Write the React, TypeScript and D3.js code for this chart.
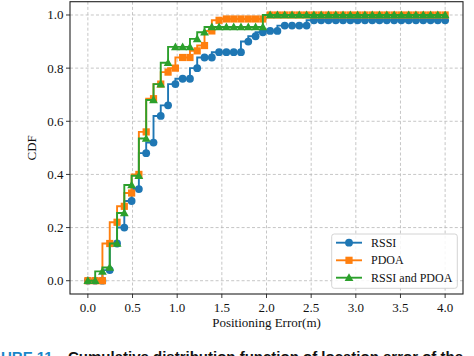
import React from "react";
import * as d3 from "d3";

const errX = [0, 0.082, 0.163, 0.245, 0.327, 0.408, 0.49, 0.571, 0.653, 0.735, 0.816, 0.898, 0.98, 1.061, 1.143, 1.224, 1.306, 1.388, 1.469, 1.551, 1.633, 1.714, 1.796, 1.878, 1.959, 2.041, 2.122, 2.204, 2.286, 2.367, 2.449, 2.531, 2.612, 2.694, 2.776, 2.857, 2.939, 3.02, 3.102, 3.184, 3.265, 3.347, 3.429, 3.51, 3.592, 3.673, 3.755, 3.837, 3.918, 4.0];

const rssi = [0, 0, 0, 0.04, 0.14, 0.2, 0.3, 0.345, 0.48, 0.52, 0.62, 0.66, 0.74, 0.76, 0.76, 0.8, 0.84, 0.84, 0.86, 0.86, 0.86, 0.86, 0.9, 0.92, 0.935, 0.94, 0.94, 0.96, 0.96, 0.96, 0.96,
  0.98, 0.98, 0.98, 0.98, 0.98, 0.98, 0.98, 0.98, 0.98, 0.98, 0.98, 0.98, 0.98, 0.98, 0.98, 0.98, 0.98, 0.98, 0.98];

const pdoa = [0, 0, 0, 0.14, 0.22, 0.28, 0.33, 0.4, 0.56, 0.685, 0.74, 0.785, 0.8, 0.84, 0.84, 0.865, 0.885, 0.94, 0.98,
  0.985, 0.985, 0.985, 0.985, 0.985, 0.985,
  1, 1, 1, 1, 1, 1, 1, 1, 1, 1, 1, 1, 1, 1, 1, 1, 1, 1, 1, 1, 1, 1, 1, 1, 1];

const both = [0, 0, 0.035, 0.05, 0.14, 0.255, 0.36, 0.395, 0.535, 0.68, 0.74, 0.82, 0.88, 0.88, 0.88, 0.91, 0.935,
  0.955, 0.955, 0.955, 0.955, 0.955, 0.955, 0.955, 0.955,
  1, 1, 1, 1, 1, 1, 1, 1, 1, 1, 1, 1, 1, 1, 1, 1, 1, 1, 1, 1, 1, 1, 1, 1, 1];

const xTicks = [0, 0.5, 1, 1.5, 2, 2.5, 3, 3.5, 4];
const yTicks = [0, 0.2, 0.4, 0.6, 0.8, 1.0];
const seriesNames = ["RSSI", "PDOA", "RSSI and PDOA"];

const COLORS = ["#1f77b4", "#ff7f0e", "#2ca02c"];
const SERIF = "'Liberation Serif', 'Times New Roman', serif";

const L = 70, R = 463, T = 1.7, B = 294;

function Marker({ kind, x, y, color }: { kind: number; x: number; y: number; color: string }) {
  if (kind === 0) return <circle cx={x} cy={y} r={3.9} fill={color} />;
  if (kind === 1) return <rect x={x - 3.6} y={y - 3.6} width={7.2} height={7.2} fill={color} />;
  const s = 4.4;
  return <path d={`M${x},${y - s}L${x + s},${y + s * 0.75}L${x - s},${y + s * 0.75}Z`} fill={color} />;
}

export default function App() {
  const x = d3.scaleLinear().domain([-0.2, 4.2]).range([L, R]);
  const y = d3.scaleLinear().domain([-0.05, 1.05]).range([B, T]);
  const line = d3
    .line<number>()
    .x((_, i) => x(errX[i]))
    .y((d) => y(d))
    .curve(d3.curveStepBefore);
  const data = [rssi, pdoa, both];

  const legX = 331.7, legY = 234, legW = 125.6, legH = 54.3;
  const rowY = [242.7, 260.3, 277.7];

  return (
    <svg width={474} height={356} style={{ position: "absolute", left: 0, top: 0, background: "#fff" }}>
      <rect x={0} y={0} width={474} height={356} fill="#fff" />
      <g stroke="#b8b8b8" strokeWidth={0.8} strokeDasharray="3,2.2">
        {xTicks.map((t) => (
          <line key={"gx" + t} x1={x(t)} x2={x(t)} y1={T} y2={B} />
        ))}
        {yTicks.map((t) => (
          <line key={"gy" + t} x1={L} x2={R} y1={y(t)} y2={y(t)} />
        ))}
      </g>
      {data.map((s, k) => (
        <g key={"s" + k}>
          <path d={line(s) || ""} fill="none" stroke={COLORS[k]} strokeWidth={1.9} />
          {s.map((v, i) => (
            <Marker key={i} kind={k} x={x(errX[i])} y={y(v)} color={COLORS[k]} />
          ))}
        </g>
      ))}
      <rect x={L} y={T} width={R - L} height={B - T} fill="none" stroke="#222" strokeWidth={1.1} />
      <g stroke="#222" strokeWidth={0.9}>
        {xTicks.map((t) => (
          <line key={"tx" + t} x1={x(t)} x2={x(t)} y1={B} y2={B + 4} />
        ))}
        {yTicks.map((t) => (
          <line key={"ty" + t} x1={L - 4} x2={L} y1={y(t)} y2={y(t)} />
        ))}
      </g>
      <g fontFamily={SERIF} fontSize={13} fill="#111">
        {xTicks.map((t) => (
          <text key={"lx" + t} x={x(t)} y={311.5} textAnchor="middle">
            {d3.format(".1f")(t)}
          </text>
        ))}
        {yTicks.map((t) => (
          <text key={"ly" + t} x={63.5} y={y(t) + 4.5} textAnchor="end">
            {d3.format(".1f")(t)}
          </text>
        ))}
        <text x={(L + R) / 2} y={327} textAnchor="middle">Positioning Error(m)</text>
        <text transform={`translate(36,${(T + B) / 2}) rotate(-90)`} textAnchor="middle">CDF</text>
      </g>
      <rect x={legX} y={legY} width={legW} height={legH} rx={2.5} fill="#fff" fillOpacity={0.85} stroke="#cfcfcf" strokeWidth={0.9} />
      {seriesNames.map((n, k) => (
        <g key={"lg" + k}>
          <line x1={336} x2={362} y1={rowY[k]} y2={rowY[k]} stroke={COLORS[k]} strokeWidth={1.9} />
          <Marker kind={k} x={349} y={rowY[k]} color={COLORS[k]} />
          <text x={371} y={rowY[k] + 4} fontFamily={SERIF} fontSize={12} fill="#111">{n}</text>
        </g>
      ))}
      <text x={-24} y={361.5} fontFamily="'Liberation Sans', Arial, sans-serif" fontWeight="bold" fontSize={15}>
        <tspan fill="#1a86c8">FIGURE 11</tspan>
        <tspan x={68} fill="#111">Cumulative distribution function of location error of the</tspan>
      </text>
    </svg>
  );
}
